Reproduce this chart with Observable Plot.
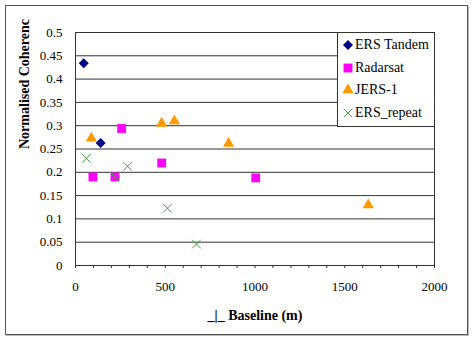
<!DOCTYPE html>
<html>
<head>
<meta charset="utf-8">
<script src="https://cdn.jsdelivr.net/npm/d3@7"></script>
<script src="https://cdn.jsdelivr.net/npm/@observablehq/plot@0.6"></script>
<style>
  html, body { margin: 0; padding: 0; background: #fff; }
  #wrap { position: relative; width: 474px; height: 340px; overflow: hidden; }
  #border { position: absolute; left: 5px; top: 5px; width: 463px; height: 330px; border: 1px solid #555; box-sizing: border-box; box-shadow: 1px 1px 0 #bbb; }
  #chart { position: absolute; left: 0; top: 0; }
  #legend { position: absolute; left: 337px; top: 32px; width: 98px; height: 95px; box-sizing: border-box;
            border: 1px solid #333; background: #fff; font-family: "Times New Roman", Times, "Liberation Serif", "DejaVu Serif", serif; font-size: 14px; color: #000; }
  .row { position: absolute; left: 0; height: 20px; display: flex; align-items: center; }
  .row svg { margin-left: 4px; }
  .row span { margin-left: 1px; white-space: nowrap; }
  svg text { font-family: "Times New Roman", Times, "Liberation Serif", "DejaVu Serif", serif; }
</style>
</head>
<body>
<div id="wrap">
  <div id="border"></div>
  <div id="chart"></div>
  <div id="legend"></div>
</div>
<script>
// ---- data ----
const seriesNames = ["ERS Tandem", "Radarsat", "JERS-1", "ERS_repeat"];
const seriesColors = ["#000080", "#ff00ff", "#ff9900", "#3f9f3f"];
const seriesSymbols = ["diamond2", "square", "triangle", "times"];

const ersTandemX = [46, 140];
const ersTandemY = [0.434, 0.263];
const radarsatX = [97, 220, 257, 480, 1004];
const radarsatY = [0.190, 0.190, 0.294, 0.220, 0.188];
const jers1X = [88, 480, 551, 853, 1631];
const jers1Y = [0.273, 0.305, 0.310, 0.262, 0.130];
const ersRepeatX = [61, 220, 290, 512, 674];
const ersRepeatY = [0.230, 0.190, 0.213, 0.123, 0.046];

const yTicks = [0, 0.05, 0.1, 0.15, 0.2, 0.25, 0.3, 0.35, 0.4, 0.45, 0.5];
const xLabelTicks = [0, 500, 1000, 1500, 2000];
const xMinorTicks = d3.range(0, 2001, 100);
const xTitle = "_|_ Baseline (m)";
const yTitle = "Normalised Coherenc";

// ---- table ----
const seriesX = [ersTandemX, radarsatX, jers1X, ersRepeatX];
const seriesY = [ersTandemY, radarsatY, jers1Y, ersRepeatY];
const data = [];
seriesNames.forEach((s, i) => seriesX[i].forEach((x, j) => data.push({series: s, x, y: seriesY[i][j]})));
const bySeries = name => data.filter(d => d.series === name);

const sizes = {"diamond2": 4.5, "square": 5, "triangle": 4.2, "times": 4};
const serif = "'Times New Roman', Times, 'Liberation Serif', 'DejaVu Serif', serif";

const marks = [
  Plot.gridY(yTicks, {stroke: "#333", strokeOpacity: 1}),
  Plot.frame({stroke: "#333"}),
  Plot.axisY({ticks: yTicks, tickSize: 0, tickPadding: 13, tickFormat: d => String(d), label: null}),
  Plot.axisX({ticks: xMinorTicks, tickSize: 3, tickFormat: () => "", label: null, stroke: "#333"}),
  Plot.axisX({ticks: xLabelTicks, tickSize: 0, tickPadding: 16, tickFormat: d => String(d), label: null}),
  Plot.text([yTitle], {frameAnchor: "left", rotate: -90, dx: -51, fontWeight: "bold", fontSize: 14}),
  Plot.text([xTitle], {frameAnchor: "bottom", dy: 54, fontWeight: "bold", fontSize: 14})
];
seriesNames.forEach((s, i) => {
  const sym = seriesSymbols[i];
  if (sym === "times") {
    marks.push(Plot.dot(bySeries(s), {x: "x", y: "y", symbol: sym, r: sizes[sym], stroke: seriesColors[i], strokeWidth: 1, fill: "none"}));
  } else {
    marks.push(Plot.dot(bySeries(s), {x: "x", y: "y", symbol: sym, r: sizes[sym], fill: seriesColors[i], stroke: "none"}));
  }
});

const chart = Plot.plot({
  width: 474,
  height: 340,
  marginLeft: 75,
  marginRight: 40,
  marginTop: 32,
  marginBottom: 75,
  style: {fontFamily: serif, fontSize: "13px", color: "#000", background: "transparent"},
  x: {domain: [0, 2000]},
  y: {domain: [0, 0.5]},
  marks
});
document.getElementById("chart").appendChild(chart);

// ---- legend ----
const legend = document.getElementById("legend");
const symbolMap = {diamond2: d3.symbolDiamond2, square: d3.symbolSquare, triangle: d3.symbolTriangle, times: d3.symbolTimes};
const rowCenters = [12, 35, 57, 80];
seriesNames.forEach((s, i) => {
  const row = document.createElement("div");
  row.className = "row";
  row.style.top = (rowCenters[i] - 10) + "px";
  const sym = seriesSymbols[i];
  const r = sizes[sym];
  const path = d3.symbol(symbolMap[sym], Math.PI * r * r)();
  const isStroke = sym === "times";
  row.innerHTML = `<svg width="12" height="12" viewBox="-6 -6 12 12"><path d="${path}" ${isStroke ? `fill="none" stroke="${seriesColors[i]}"` : `fill="${seriesColors[i]}"`}/></svg><span>${s}</span>`;
  legend.appendChild(row);
});
</script>
</body>
</html>
